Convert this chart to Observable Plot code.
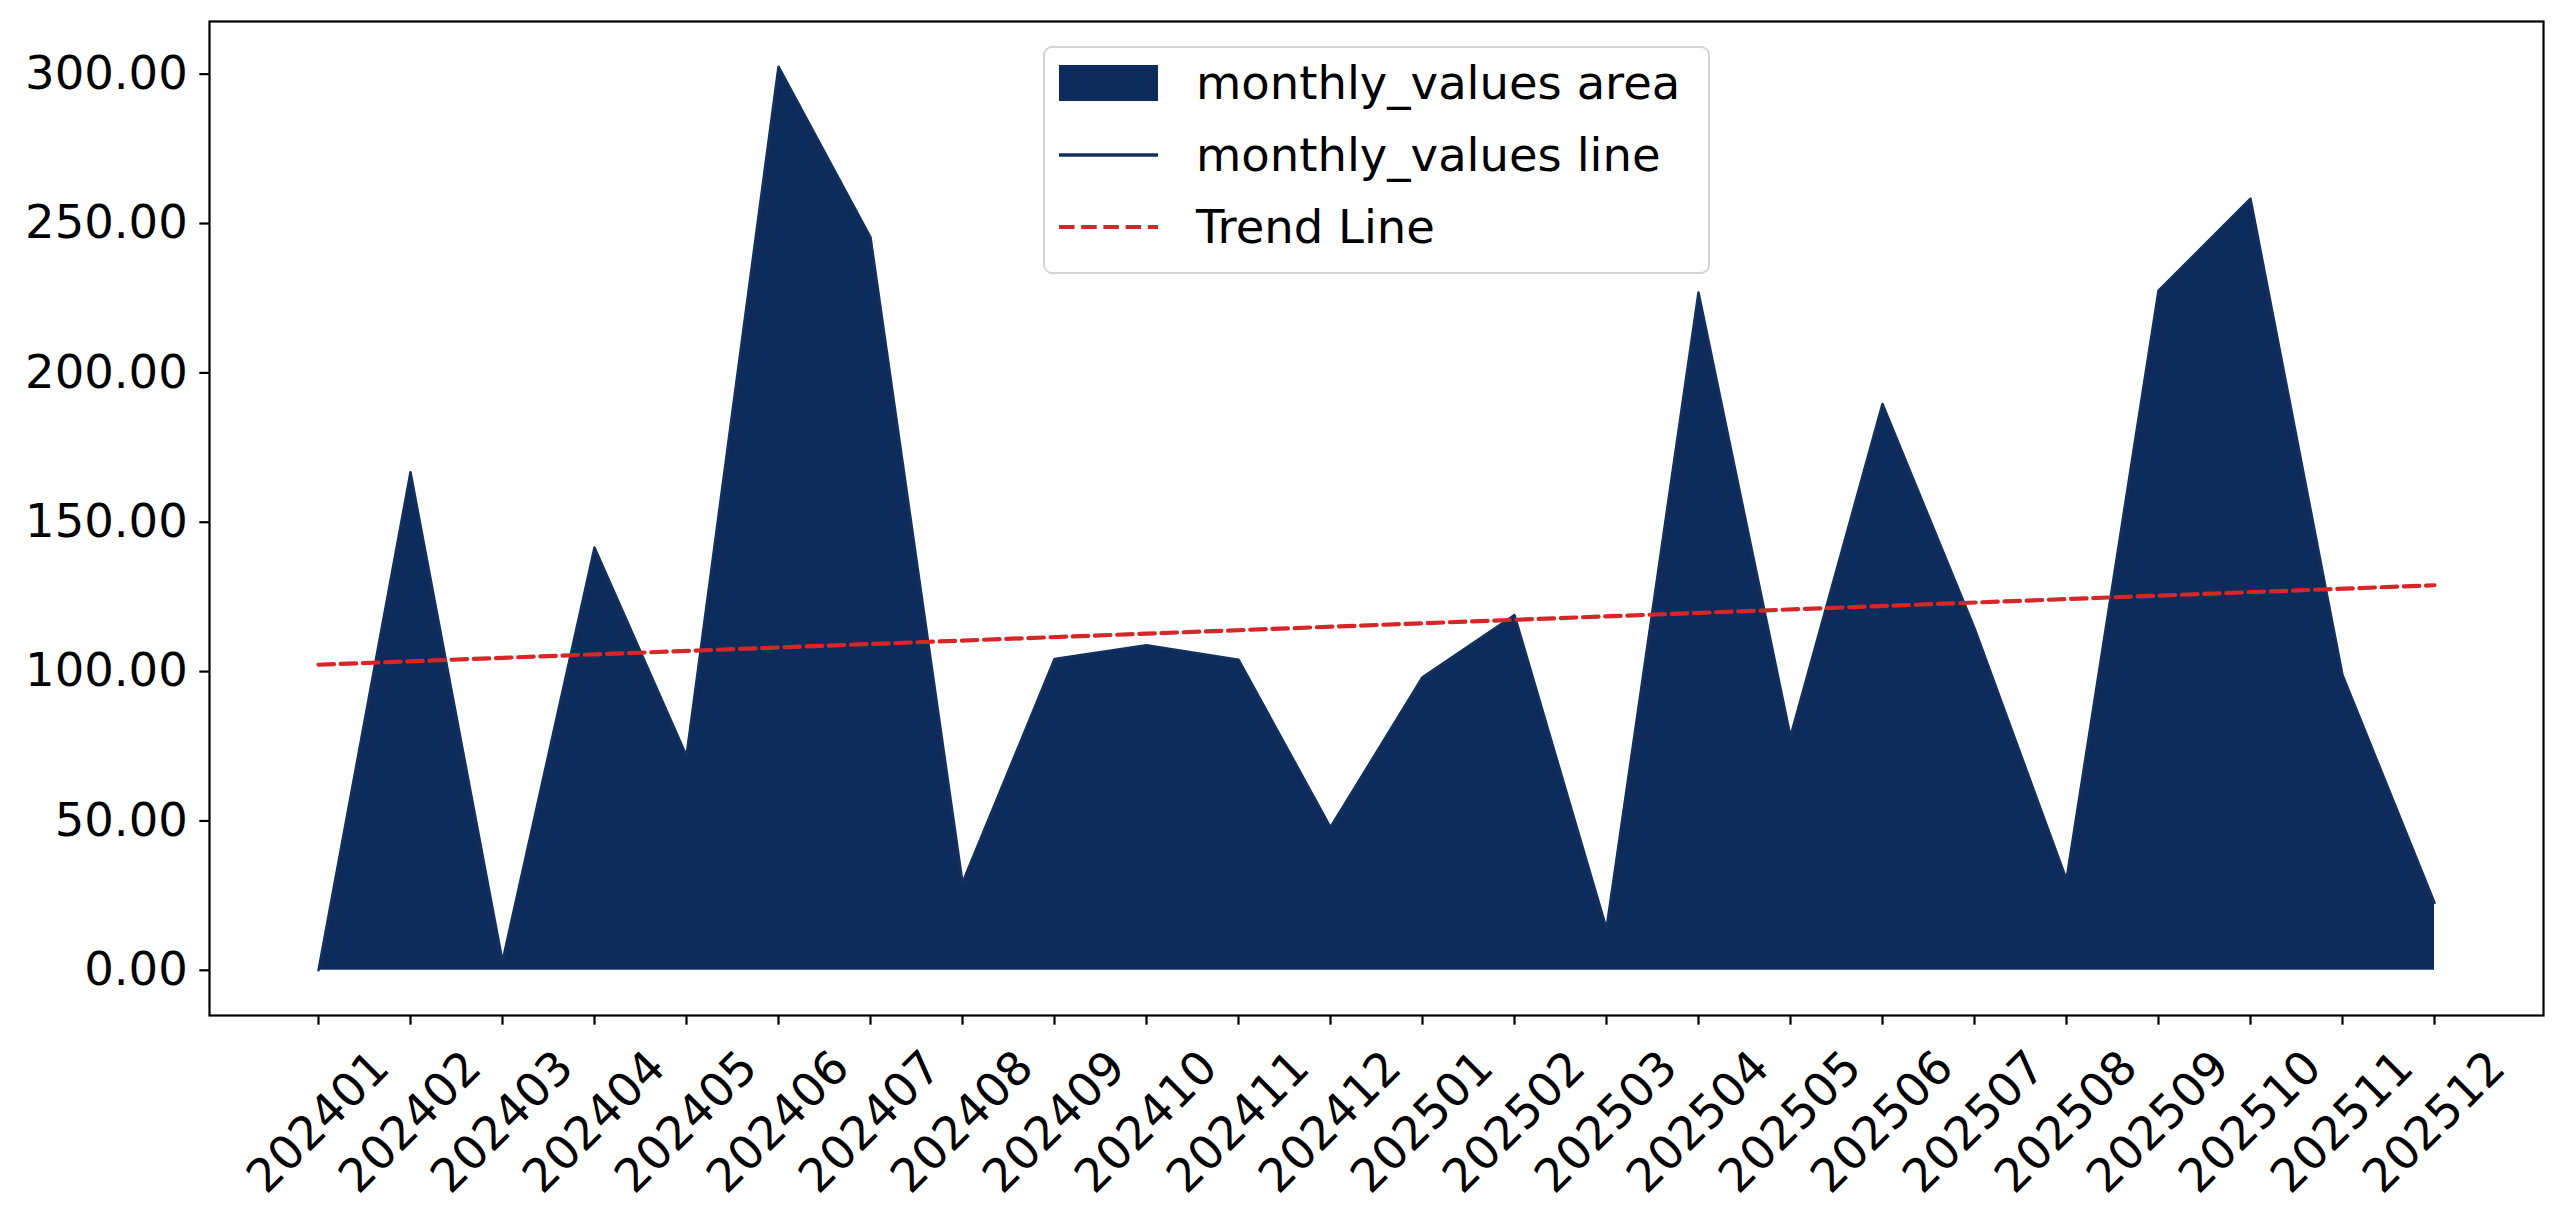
<!DOCTYPE html>
<html>
<head>
<meta charset="utf-8">
<script src="https://cdn.jsdelivr.net/npm/d3@7"></script>
<script src="https://cdn.jsdelivr.net/npm/@observablehq/plot@0.6"></script>
<style>
  html, body { margin: 0; padding: 0; background: #fff; }
  #wrap { position: relative; width: 2563px; height: 1219px; font-family: "DejaVu Sans", sans-serif; }
  #legend { position: absolute; left: 1043px; top: 46px; width: 667px; height: 228px; box-sizing: border-box;
            border: 2px solid #d5d5d5; border-radius: 9px; background: rgba(255,255,255,0.85); }
  .row { position: absolute; left: 14px; height: 60px; display: flex; align-items: center; font-size: 46.5px; color: #000; white-space: nowrap; }
  .row svg { width: 99px; height: 40px; margin-right: 38px; flex: none; }
</style>
</head>
<body>
<div id="wrap"></div>
<script>
// ---- data ----
const months = ["202401","202402","202403","202404","202405","202406","202407","202408","202409","202410","202411","202412",
                "202501","202502","202503","202504","202505","202506","202507","202508","202509","202510","202511","202512"];
const monthlyValues = [0, 166.7, 3, 141.5, 71.8, 302.5, 245.4, 29.3, 104.2, 108.8, 104.0, 47.9,
                       98.1, 118.9, 14.0, 226.9, 78.3, 189.6, 114.5, 30.4, 227.5, 258.3, 98.9, 22.6];
const trendMonths = ["202401", "202512"];
const trendValues = [102.3, 128.9];
const yTicks = [0, 50, 100, 150, 200, 250, 300];
const legendLabels = ["monthly_values area", "monthly_values line", "Trend Line"];

const NAVY = "#0e2c5b";
const LINE = "#13315f";
const RED = "#d62728";

const data = months.map((m, i) => ({month: m, value: monthlyValues[i]}));
const trend = trendMonths.map((m, i) => ({month: m, value: trendValues[i]}));
const [lo, hi] = d3.extent(monthlyValues);
const pad = (hi - lo) * 0.05;

const chart = Plot.plot({
  width: 2563,
  height: 1219,
  marginTop: 21,
  marginBottom: 204,
  marginLeft: 209,
  marginRight: 20,
  style: {fontFamily: "DejaVu Sans", fontSize: "46.5px", color: "#000", background: "#fff"},
  x: {type: "point", domain: months, padding: 1.15, label: null},
  y: {domain: [lo - pad, hi + pad], label: null},
  marks: [
    Plot.areaY(data, {x: "month", y: "value", fill: NAVY}),
    Plot.lineY(data, {x: "month", y: "value", stroke: LINE, strokeWidth: 2.5}),
    Plot.lineY(trend, {x: "month", y: "value", stroke: RED, strokeWidth: 4.2, strokeDasharray: "15.5,6.7"}),
    Plot.frame({stroke: "#000", strokeWidth: 2.2}),
    Plot.axisY(yTicks, {tickFormat: d3.format(".2f"), tickSize: 9.7, tickPadding: 12, strokeWidth: 2.2, fontSize: 46.5, label: null}),
    Plot.axisX({tickRotate: -45, tickSize: 9.7, tickPadding: 97, textAnchor: "middle", lineAnchor: "middle",
                strokeWidth: 2.2, fontSize: 46.5, label: null})
  ]
});

const wrap = document.getElementById("wrap");
wrap.appendChild(chart);

// legend (HTML overlay inside the axes, like the reference)
const legend = document.createElement("div");
legend.id = "legend";
const swatches = [
  `<svg viewBox="0 0 99 40"><rect x="0" y="2" width="99" height="36" fill="${NAVY}"/></svg>`,
  `<svg viewBox="0 0 99 40"><line x1="0" x2="99" y1="20" y2="20" stroke="${LINE}" stroke-width="3.5"/></svg>`,
  `<svg viewBox="0 0 99 40"><line x1="0" x2="99" y1="20" y2="20" stroke="${RED}" stroke-width="4.2" stroke-dasharray="15.5,6.7"/></svg>`
];
const rowCenters = [35, 107, 179];
legendLabels.forEach((lab, i) => {
  const r = document.createElement("div");
  r.className = "row";
  r.style.top = (rowCenters[i] - 30) + "px";
  r.innerHTML = swatches[i] + `<span>${lab}</span>`;
  legend.appendChild(r);
});
wrap.appendChild(legend);
</script>
</body>
</html>
